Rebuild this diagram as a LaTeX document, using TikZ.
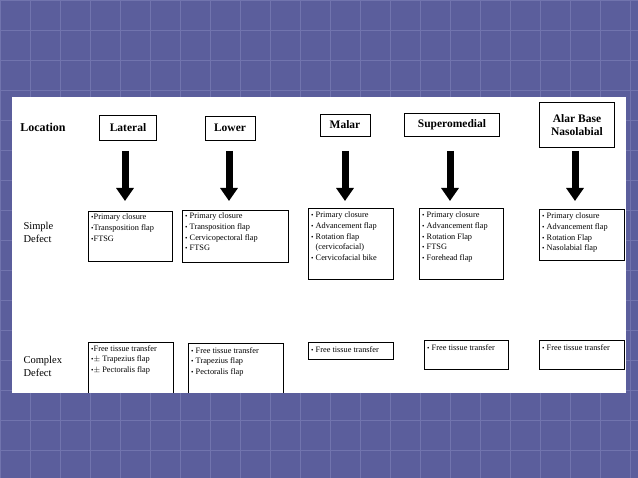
\documentclass[tikz,border=0pt]{standalone}
\usetikzlibrary{arrows.meta}
\usepackage{fontspec}
\setmainfont{Liberation Serif}
\newcommand{\bul}{{\scriptsize\textbullet}}
\begin{document}
\begin{tikzpicture}[x=1pt,y=-1pt,
  box/.style={draw,line width=0.8pt,anchor=north west,inner sep=0pt},
  lst/.style={anchor=north west,align=left,font=\fontsize{8.3}{10.6}\selectfont,inner sep=0pt},
  hdr/.style={draw,line width=0.8pt,font=\bfseries\fontsize{11.5}{13.5}\selectfont,align=center,inner sep=3pt},
  arr/.style={line width=7pt,-{Triangle[width=17pt,length=13pt]}}]
\definecolor{bg}{HTML}{5B5E9C}
\definecolor{grid}{HTML}{7174AE}
\useasboundingbox (0,0) rectangle (638,478);
\begin{scope}
\clip (0,0) rectangle (638,478);
\fill[bg] (0,0) rectangle (638,478);
\foreach \i in {0,30,...,660} {\draw[grid,line width=0.6pt] (\i,0) -- (\i,478);}
\foreach \j in {0,30,...,480} {\draw[grid,line width=0.6pt] (0,\j) -- (638,\j);}
\end{scope}
\fill[white] (12,97) rectangle (626,393);
\node[font=\bfseries\fontsize{12}{14}\selectfont] (loc) at (43,127) {Location};
\node[font=\fontsize{10.5}{12.5}\selectfont,align=left,anchor=north west] (sd) at (20,219) {Simple\\Defect};
\node[font=\fontsize{10.5}{12.5}\selectfont,align=left,anchor=north west] (cd) at (20,353) {Complex\\Defect};
\node[hdr,minimum width=57pt,minimum height=25pt] (h1) at (128,128) {Lateral};
\node[hdr,minimum width=50pt,minimum height=24pt] (h2) at (230,128) {Lower};
\node[hdr,minimum width=50pt,minimum height=22pt] (h3) at (345,125) {Malar};
\node[hdr,minimum width=95pt,minimum height=23pt] (h4) at (452,125) {Superomedial};
\node[hdr,minimum width=75pt,minimum height=45pt] (h5) at (577,125) {Alar Base\\Nasolabial};
\coordinate (a1) at (125,151); \coordinate (b1) at (125,201);
\coordinate (a2) at (229,151); \coordinate (b2) at (229,201);
\coordinate (a3) at (345,151); \coordinate (b3) at (345,201);
\coordinate (a4) at (450,151); \coordinate (b4) at (450,201);
\coordinate (a5) at (575,151); \coordinate (b5) at (575,201);
\foreach \k in {1,...,5} {\draw[arr] (a\k) -- (b\k);}
% simple
\node[box,minimum width=84pt,minimum height=50pt] (s1) at (88,211) {};
\node[lst] at (91,214) {\bul Primary closure\\\bul Transposition flap\\\bul FTSG};
\node[box,minimum width=106pt,minimum height=52pt] (s2) at (182,210) {};
\node[lst] at (185,213) {\bul\ Primary closure\\\bul\ Transposition flap\\\bul\ Cervicopectoral flap\\\bul\ FTSG};
\node[box,minimum width=85pt,minimum height=71pt] (s3) at (308,208) {};
\node[lst] at (311,212) {\bul\ Primary closure\\\bul\ Advancement flap\\\bul\ Rotation flap\\\phantom{\bul\ }(cervicofacial)\\\bul\ Cervicofacial bike};
\node[box,minimum width=84pt,minimum height=71pt] (s4) at (419,208) {};
\node[lst] at (422,212) {\bul\ Primary closure\\\bul\ Advancement flap\\\bul\ Rotation Flap\\\bul\ FTSG\\\bul\ Forehead flap};
\node[box,minimum width=85pt,minimum height=51pt] (s5) at (539,209) {};
\node[lst] at (542,213) {\bul\ Primary closure\\\bul\ Advancement flap\\\bul\ Rotation Flap\\\bul\ Nasolabial flap};
% complex
\node[box,minimum width=85pt,minimum height=53pt] (c1) at (88,342) {};
\node[lst] at (91,345) {\bul Free tissue transfer\\\bul$\pm$ Trapezius flap\\\bul$\pm$ Pectoralis flap};
\node[box,minimum width=95pt,minimum height=53pt] (c2) at (188,343) {};
\node[lst] at (191,347) {\bul\ Free tissue transfer\\\bul\ Trapezius flap\\\bul\ Pectoralis flap};
\node[box,minimum width=85pt,minimum height=17pt] (c3) at (308,342) {};
\node[lst] at (311,346) {\bul\ Free tissue transfer};
\node[box,minimum width=84pt,minimum height=29pt] (c4) at (424,340) {};
\node[lst] at (427,344) {\bul\ Free tissue transfer};
\node[box,minimum width=85pt,minimum height=29pt] (c5) at (539,340) {};
\node[lst] at (542,344) {\bul\ Free tissue transfer};
\begin{scope}
\clip (0,393) rectangle (638,478);
\fill[bg] (0,393) rectangle (638,478);
\foreach \i in {0,30,...,660} {\draw[grid,line width=0.6pt] (\i,393) -- (\i,478);}
\foreach \j in {420,450} {\draw[grid,line width=0.6pt] (0,\j) -- (638,\j);}
\end{scope}
\end{tikzpicture}
\end{document}
